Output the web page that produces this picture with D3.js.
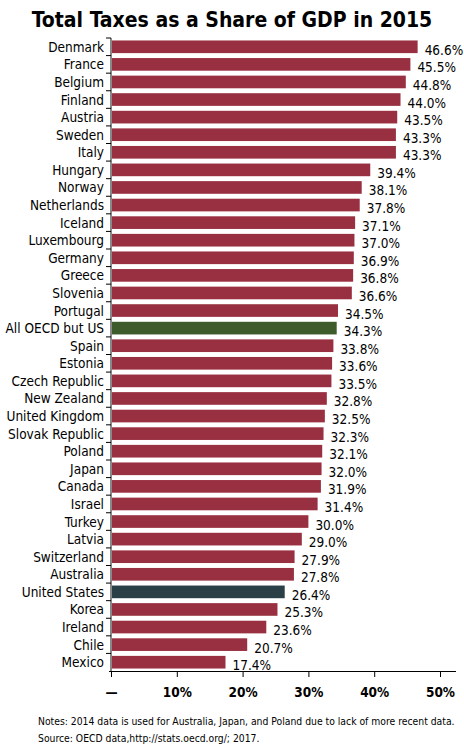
<!DOCTYPE html>
<html><head><meta charset="utf-8">
<script src="https://cdn.jsdelivr.net/npm/d3@7"></script>
<style>body{margin:0;background:#fff}svg{font-family:"DejaVu Sans Condensed","Liberation Sans",sans-serif}</style>
</head><body><svg width="464" height="750"></svg>
<script>
const countries = ['Denmark','France','Belgium','Finland','Austria','Sweden','Italy','Hungary','Norway','Netherlands','Iceland','Luxembourg','Germany','Greece','Slovenia','Portugal','All OECD but US','Spain','Estonia','Czech Republic','New Zealand','United Kingdom','Slovak Republic','Poland','Japan','Canada','Israel','Turkey','Latvia','Switzerland','Australia','United States','Korea','Ireland','Chile','Mexico'];
const shares = [46.6,45.5,44.8,44.0,43.5,43.3,43.3,39.4,38.1,37.8,37.1,37.0,36.9,36.8,36.6,34.5,34.3,33.8,33.6,33.5,32.8,32.5,32.3,32.1,32.0,31.9,31.4,30.0,29.0,27.9,27.8,26.4,25.3,23.6,20.7,17.4];
const xTicks = [0,10,20,30,40,50];
const xTickLabels = ['—','10%','20%','30%','40%','50%'];

const svg = d3.select('svg');
const mLeft = 111, mTop = 38, mBottom = 671;
const xScale = d3.scaleLinear().domain([0,50]).range([mLeft, 440]);
const yScale = d3.scaleBand().domain(countries).range([mTop, mBottom]).paddingInner(0.28).paddingOuter(0.14);

const colorOf = c => c === 'All OECD but US' ? '#3e5b2b' : c === 'United States' ? '#2a3f46' : '#993041';

svg.append('text').attr('x', 232).attr('y', 27).attr('text-anchor','middle')
  .attr('font-size', 21).attr('font-weight','bold').text('Total Taxes as a Share of GDP in 2015');

// left axis line and ticks between rows
svg.append('line').attr('x1', mLeft).attr('x2', mLeft).attr('y1', mTop).attr('y2', mBottom)
  .attr('stroke', '#888').attr('stroke-width', 2);
const step = yScale.step();
countries.forEach(c => {
  const y = yScale(c) - yScale.paddingInner() * step / 2;
  svg.append('line').attr('x1', mLeft - 5).attr('x2', mLeft).attr('y1', y).attr('y2', y).attr('stroke', '#000');
});

svg.selectAll('rect.bar').data(countries).enter().append('rect')
  .attr('x', mLeft + 1).attr('y', d => yScale(d))
  .attr('width', (d, i) => xScale(shares[i]) - mLeft - 1)
  .attr('height', yScale.bandwidth()).attr('fill', colorOf);

svg.selectAll('text.cat').data(countries).enter().append('text')
  .attr('x', mLeft - 7).attr('y', d => yScale(d) + yScale.bandwidth() / 2 + 5)
  .attr('text-anchor', 'end').attr('font-size', 13.5).text(d => d);

svg.selectAll('text.val').data(countries).enter().append('text')
  .attr('x', (d, i) => xScale(shares[i]) + 7).attr('y', d => yScale(d) + yScale.bandwidth() / 2 + 8)
  .attr('font-size', 13.5).text((d, i) => shares[i].toFixed(1) + '%');

const xAxis = d3.axisBottom(xScale).tickValues(xTicks).tickSize(6).tickFormat((d, i) => xTickLabels[i]);
const xg = svg.append('g').attr('transform', `translate(0,${mBottom})`).call(xAxis);
xg.select('.domain').attr('d', `M${mLeft - 2},0.5H456`).attr('stroke', '#000');
xg.selectAll('.tick line').attr('stroke', '#000');
xg.selectAll('.tick text').attr('y', 16).attr('font-size', 13.5).attr('font-weight', 'bold')
  .attr('font-family', '"DejaVu Sans Condensed",sans-serif').attr('fill', '#000');

svg.append('text').attr('x', 38).attr('y', 725).attr('font-size', 10.3)
  .text('Notes: 2014 data is used for Australia, Japan, and Poland due to lack of more recent data.');
svg.append('text').attr('x', 38).attr('y', 742).attr('font-size', 10.3)
  .text('Source: OECD data,http://stats.oecd.org/; 2017.');
</script></body></html>
